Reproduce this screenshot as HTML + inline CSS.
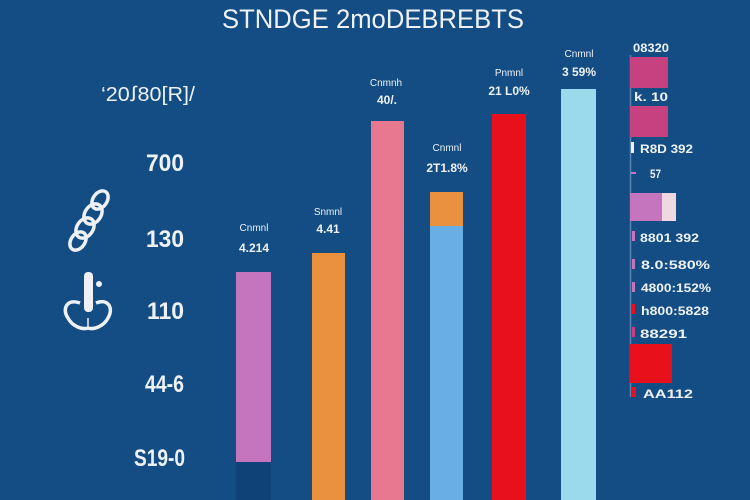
<!DOCTYPE html>
<html><head><meta charset="utf-8"><style>
html,body{margin:0;padding:0;background:#134d84;}
svg{display:block;}
text{font-family:"Liberation Sans",sans-serif;fill:#eef2f7;}
</style></head><body>
<svg width="750" height="500" viewBox="0 0 750 500" xmlns="http://www.w3.org/2000/svg">
<rect width="750" height="500" fill="#134d84"/>
<!-- title -->
<text x="222" y="28" font-size="27" textLength="302" lengthAdjust="spacingAndGlyphs">STNDGE 2moDEBREBTS</text>
<!-- left labels -->
<text x="101" y="101" font-size="20" textLength="94" lengthAdjust="spacingAndGlyphs">‘20ꭍ80[R]/</text>
<g font-size="24" font-weight="bold" text-anchor="end" lengthAdjust="spacingAndGlyphs">
<text x="184" y="171" textLength="38" lengthAdjust="spacingAndGlyphs">700</text>
<text x="184" y="247" textLength="38" lengthAdjust="spacingAndGlyphs">130</text>
<text x="184" y="319" textLength="37" lengthAdjust="spacingAndGlyphs">110</text>
<text x="184" y="392" textLength="39" lengthAdjust="spacingAndGlyphs">44-6</text>
<text x="185" y="466" textLength="51" lengthAdjust="spacingAndGlyphs">S19-0</text>
</g>
<!-- chain icon -->
<g fill="none" stroke="#eef2f7" stroke-width="3.5">
<ellipse cx="100" cy="200" rx="10" ry="7" transform="rotate(-55 100 200)"/>
<ellipse cx="93" cy="214" rx="11" ry="8" transform="rotate(-55 93 214)"/>
<ellipse cx="85" cy="228" rx="11" ry="8" transform="rotate(-55 85 228)"/>
<ellipse cx="78" cy="241" rx="10" ry="7" transform="rotate(-55 78 241)"/>
</g>
<!-- joystick icon -->
<rect x="84" y="272" width="9" height="40" rx="4" fill="#eef2f7"/>
<circle cx="99" cy="284" r="3" fill="#eef2f7"/>
<path d="M80 303 C66 298 62 310 68 318 C72 326 82 330 88 328 C94 330 104 326 108 318 C114 308 108 298 96 303" fill="none" stroke="#eef2f7" stroke-width="3.5"/>
<line x1="88" y1="318" x2="88" y2="328" stroke="#eef2f7" stroke-width="1.5"/>
<!-- bars -->
<rect x="236" y="272" width="35" height="190" fill="#c475bd"/>
<rect x="236" y="462" width="35" height="38" fill="#0f4276"/>
<rect x="312" y="253" width="33" height="247" fill="#e9913f"/>
<rect x="371" y="121" width="33" height="379" fill="#e7788f"/>
<rect x="430" y="192" width="33" height="34" fill="#e9913f"/>
<rect x="430" y="226" width="33" height="274" fill="#6aaee6"/>
<rect x="492" y="114" width="34" height="386" fill="#e8101a"/>
<rect x="561" y="89" width="35" height="411" fill="#9bd9ec"/>
<!-- bar labels -->
<g font-size="10" text-anchor="middle">
<text x="254" y="231">Cnmnl</text>
<text x="328" y="215">Snmnl</text>
<text x="386" y="86">Cnmnh</text>
<text x="447" y="151">Cnmnl</text>
<text x="509" y="76">Pnmnl</text>
<text x="579" y="57">Cnmnl</text>
</g>
<g font-size="12" font-weight="bold" text-anchor="middle">
<text x="254" y="252">4.214</text>
<text x="328" y="233">4.41</text>
<text x="387" y="104">40/.</text>
<text x="447" y="172">2T1.8%</text>
<text x="509" y="95">21 L0%</text>
<text x="579" y="76">3 59%</text>
</g>
<!-- right legend -->
<line x1="630.5" y1="55" x2="630.5" y2="397" stroke="#5c83b6" stroke-width="1.5"/>
<rect x="630" y="57" width="38" height="31" fill="#c7407f"/>
<rect x="630" y="106" width="38" height="31" fill="#c7407f"/>
<rect x="630" y="193" width="32" height="28" fill="#c475bd"/>
<rect x="662" y="193" width="14" height="28" fill="#f0d8e0"/>
<rect x="630" y="344" width="42" height="39" fill="#e8101a"/>
<rect x="631" y="142" width="3" height="11" fill="#eef2f7"/>
<rect x="631" y="172" width="5" height="2" fill="#c475bd"/>
<rect x="632" y="231" width="3" height="10" fill="#c475bd"/>
<rect x="632" y="259" width="3" height="10" fill="#c475bd"/>
<rect x="632" y="282" width="3" height="10" fill="#c475bd"/>
<rect x="632" y="304" width="3" height="10" fill="#e8101a"/>
<rect x="632" y="327" width="3" height="10" fill="#c7407f"/>
<rect x="632" y="387" width="4" height="10" fill="#e8101a"/>
<g font-size="12" font-weight="bold">
<text x="633" y="52" textLength="36" lengthAdjust="spacingAndGlyphs">08320</text>
<text x="634" y="101" textLength="34" lengthAdjust="spacingAndGlyphs">k. 10</text>
<text x="640" y="153" textLength="53" lengthAdjust="spacingAndGlyphs">R8D 392</text>
<text x="650" y="178" textLength="11" lengthAdjust="spacingAndGlyphs">57</text>
<text x="640" y="242" textLength="59" lengthAdjust="spacingAndGlyphs">8801 392</text>
<text x="641" y="269" textLength="69" lengthAdjust="spacingAndGlyphs">8.0:580%</text>
<text x="641" y="292" textLength="70" lengthAdjust="spacingAndGlyphs">4800:152%</text>
<text x="641" y="315" textLength="68" lengthAdjust="spacingAndGlyphs">h800:5828</text>
<text x="640" y="338" textLength="47" lengthAdjust="spacingAndGlyphs">88291</text>
<text x="643" y="398" textLength="50" lengthAdjust="spacingAndGlyphs">AA112</text>
</g>
</svg>
</body></html>
